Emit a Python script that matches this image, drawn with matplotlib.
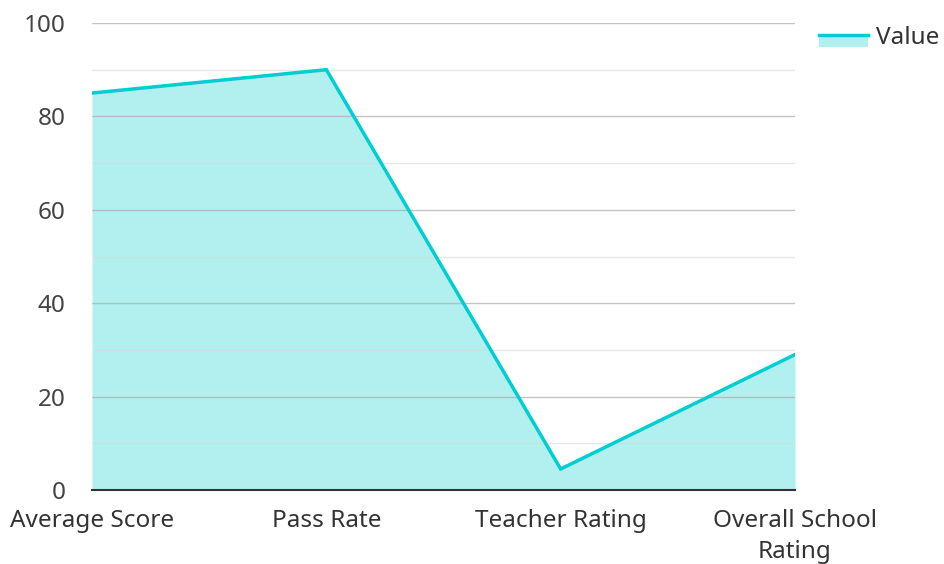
import matplotlib.pyplot as plt
from matplotlib.lines import Line2D
from matplotlib.patches import Rectangle
from matplotlib.legend_handler import HandlerBase

plt.rcParams['font.family'] = ['Noto Sans', 'DejaVu Sans']

categories = ['Average Score', 'Pass Rate', 'Teacher Rating', 'Overall School\nRating']
values = [85, 90, 4.5, 29]

line_color = '#00CED1'
fill_color = '#B2EFEF'


class LineOnPatch(HandlerBase):
    # legend key: a thin line sitting on top of a filled box
    def create_artists(self, legend, orig, xd, yd, w, h, fontsize, trans):
        box = Rectangle((xd, yd - h * 0.2), w, h * 0.8, facecolor=fill_color,
                        edgecolor='none', transform=trans)
        ln = Line2D([xd, xd + w], [yd + h * 0.55, yd + h * 0.55], color=line_color,
                    lw=2.5, transform=trans)
        return [box, ln]


fig = plt.figure(figsize=(9.44, 5.64), dpi=100)
ax = fig.add_axes([92 / 944, 74 / 564, 703 / 944, 467 / 564])

x = range(len(categories))
ax.fill_between(x, values, 0, color=fill_color, lw=0, zorder=1)
ax.plot(x, values, color=line_color, lw=2.5, zorder=3, solid_joinstyle='miter')

ax.set_xlim(0, len(categories) - 1)
ax.set_ylim(0, 100)
ax.set_yticks(range(0, 101, 20))
ax.set_yticks(range(10, 100, 20), minor=True)
ax.grid(True, which='major', axis='y', color='#b0b0b0', lw=1, alpha=0.75, zorder=2)
ax.grid(True, which='minor', axis='y', color='#d8d8d8', lw=1, alpha=0.6, zorder=2)
ax.set_axisbelow(False)
ax.tick_params(axis='y', which='both', length=0, pad=19, labelsize=17.5, labelcolor='#444444')
ax.tick_params(axis='x', length=0, pad=14, labelsize=17.5, labelcolor='#333333')
ax.set_xticks(list(x))
ax.set_xticklabels(categories, linespacing=1.35)

for s in ['top', 'right', 'left']:
    ax.spines[s].set_visible(False)
ax.spines['bottom'].set_color('#333333')
ax.spines['bottom'].set_linewidth(1.5)
ax.spines['bottom'].set_zorder(4)

ax.legend(handles=[Line2D([], [])], labels=['Value'], handler_map={Line2D: LineOnPatch()},
          loc='upper left', bbox_to_anchor=(1.01, 1.03), frameon=False, fontsize=17.5,
          handlelength=2.0, handletextpad=0.35, labelcolor='#333333', borderaxespad=0.3)

fig.savefig('out.png', dpi=100)
